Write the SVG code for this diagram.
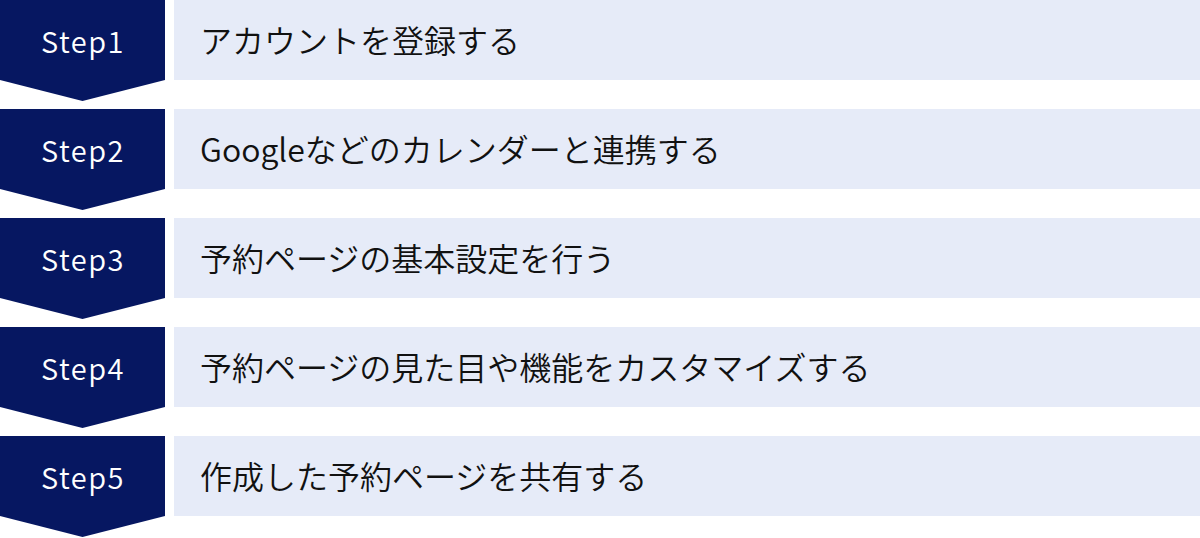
<svg xmlns="http://www.w3.org/2000/svg" width="1200" height="538" viewBox="0 0 1200 538">
<style>
.badge{fill:#061761}
.bar{fill:#e6ebf8}
.step{font-family:"Noto Sans CJK JP","Noto Sans",sans-serif;font-size:29px;font-weight:350;fill:#ffffff;text-anchor:middle;letter-spacing:1.5px}
.label{font-family:"Noto Sans CJK JP","Noto Sans",sans-serif;font-size:32px;font-weight:350;fill:#111111}
</style>
<defs>
<polygon id="chev" points="0,0 165,0 165,80 82.5,101 0,80"/>
</defs>
<g id="connectors"></g>
<g id="step1" transform="translate(0,0)">
<use href="#chev" class="badge"/>
<rect class="bar" x="174" y="0" width="1026" height="80"/>
<text class="step" x="83" y="53">Step1</text>
<text class="label" x="200" y="53">アカウントを登録する</text>
</g>
<g id="step2" transform="translate(0,109)">
<use href="#chev" class="badge"/>
<rect class="bar" x="174" y="0" width="1026" height="80"/>
<text class="step" x="83" y="53">Step2</text>
<text class="label" x="200" y="53">Googleなどのカレンダーと連携する</text>
</g>
<g id="step3" transform="translate(0,218)">
<use href="#chev" class="badge"/>
<rect class="bar" x="174" y="0" width="1026" height="80"/>
<text class="step" x="83" y="53">Step3</text>
<text class="label" x="200" y="53">予約ページの基本設定を行う</text>
</g>
<g id="step4" transform="translate(0,327)">
<use href="#chev" class="badge"/>
<rect class="bar" x="174" y="0" width="1026" height="80"/>
<text class="step" x="83" y="53">Step4</text>
<text class="label" x="200" y="53">予約ページの見た目や機能をカスタマイズする</text>
</g>
<g id="step5" transform="translate(0,436)">
<use href="#chev" class="badge"/>
<rect class="bar" x="174" y="0" width="1026" height="80"/>
<text class="step" x="83" y="53">Step5</text>
<text class="label" x="200" y="53">作成した予約ページを共有する</text>
</g>
</svg>
